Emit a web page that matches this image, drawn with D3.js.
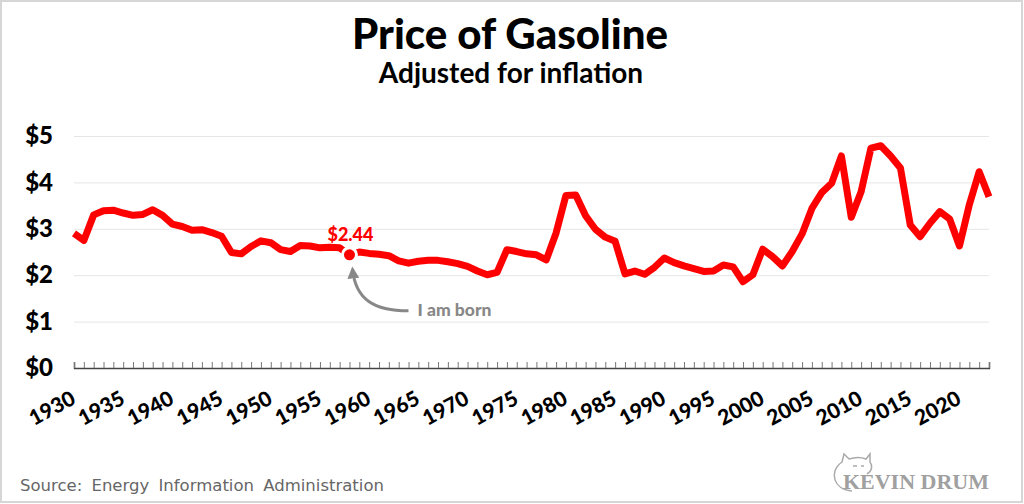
<!DOCTYPE html>
<html>
<head>
<meta charset="utf-8">
<script src="https://cdn.jsdelivr.net/npm/d3@7"></script>
<style>
  body { margin: 0; background: #fff; }
  svg { display: block; }
</style>
</head>
<body>
<script>
// years shown on the chart
var years = [
  1930, 1931, 1932, 1933, 1934, 1935, 1936, 1937, 1938, 1939,
  1940, 1941, 1942, 1943, 1944, 1945, 1946, 1947, 1948, 1949,
  1950, 1951, 1952, 1953, 1954, 1955, 1956, 1957, 1958, 1959,
  1960, 1961, 1962, 1963, 1964, 1965, 1966, 1967, 1968, 1969,
  1970, 1971, 1972, 1973, 1974, 1975, 1976, 1977, 1978, 1979,
  1980, 1981, 1982, 1983, 1984, 1985, 1986, 1987, 1988, 1989,
  1990, 1991, 1992, 1993, 1994, 1995, 1996, 1997, 1998, 1999,
  2000, 2001, 2002, 2003, 2004, 2005, 2006, 2007, 2008, 2009,
  2010, 2011, 2012, 2013, 2014, 2015, 2016, 2017, 2018, 2019,
  2020, 2021, 2022, 2023
];
// inflation-adjusted price per gallon
var prices = [
  2.90, 2.75, 3.30, 3.39, 3.40, 3.34, 3.29, 3.31, 3.41, 3.29,
  3.10, 3.05, 2.97, 2.98, 2.92, 2.84, 2.49, 2.46, 2.62, 2.74,
  2.70, 2.55, 2.51, 2.64, 2.63, 2.59, 2.60, 2.59, 2.44, 2.50,
  2.47, 2.45, 2.42, 2.31, 2.26, 2.30, 2.32, 2.32, 2.29, 2.25,
  2.19, 2.09, 2.01, 2.06, 2.55, 2.51, 2.46, 2.44, 2.33, 2.91,
  3.72, 3.73, 3.28, 2.99, 2.82, 2.73, 2.03, 2.09, 2.02, 2.17,
  2.37, 2.27, 2.20, 2.14, 2.08, 2.09, 2.22, 2.18, 1.86, 2.01,
  2.56, 2.40, 2.20, 2.51, 2.89, 3.44, 3.78, 3.98, 4.57, 3.25,
  3.80, 4.74, 4.79, 4.57, 4.31, 3.08, 2.83, 3.12, 3.37, 3.21,
  2.63, 3.52, 4.23, 3.69
];
// y axis ticks
var yTicks = [0, 1, 2, 3, 4, 5];
// labelled years on the x axis
var xLabels = [1930, 1935, 1940, 1945, 1950, 1955, 1960, 1965, 1970, 1975,
  1980, 1985, 1990, 1995, 2000, 2005, 2010, 2015, 2020];
// annotated point
var bornYear = 1958;
var bornText = 'I am born';

var svgWidth = 1024;
var svgHeight = 504;
var margin = { top: 136, right: 35, bottom: 136, left: 74 };

var data = years.map((y, i) => ({ year: y, price: prices[i] }));

var svg = d3.select('body')
  .append('svg')
  .attr('width', svgWidth)
  .attr('height', svgHeight);

// light frame round the picture
svg.append('rect')
  .attr('x', 1).attr('y', 1)
  .attr('width', 1021).attr('height', 501)
  .attr('fill', '#fff')
  .attr('stroke', '#d6d6d6')
  .attr('stroke-width', 2);

var x = d3.scaleLinear()
  .domain([1930, 2023])
  .range([margin.left, svgWidth - margin.right]);

var y = d3.scaleLinear()
  .domain([0, 5])
  .range([svgHeight - margin.bottom, margin.top]);

// titles
svg.append('text')
  .attr('x', 510).attr('y', 49)
  .attr('text-anchor', 'middle')
  .style('font-family', 'Lato, sans-serif')
  .style('font-weight', 900)
  .style('font-size', '42px')
  .text('Price of Gasoline');

svg.append('text')
  .attr('x', 511).attr('y', 83)
  .attr('text-anchor', 'middle')
  .style('font-family', 'Lato, sans-serif')
  .style('font-weight', 700)
  .style('font-size', '28px')
  .text('Adjusted for inflation');

// gridlines + y labels
var yAxis = svg.append('g')
  .attr('transform', `translate(${margin.left},0)`)
  .call(d3.axisLeft(y)
    .tickValues(yTicks)
    .tickSize(-(svgWidth - margin.left - margin.right))
    .tickPadding(21)
    .tickFormat(d => '$' + d));
yAxis.select('.domain').remove();
yAxis.selectAll('line')
  .attr('stroke', '#e6e6e6')
  .attr('stroke-width', 1)
  .filter(d => d === 0).remove();
yAxis.selectAll('text')
  .attr('fill', '#000')
  .style('font-family', 'Lato, sans-serif')
  .style('font-weight', 900)
  .style('font-size', '24px');

// x axis: tick for every year, pointing up
var xAxis = svg.append('g')
  .attr('transform', `translate(0,${y(0)})`)
  .call(d3.axisTop(x)
    .tickValues(years)
    .tickSize(6)
    .tickFormat(''));
xAxis.select('.domain')
  .attr('stroke', '#444')
  .attr('stroke-width', 1.5);
xAxis.selectAll('.tick line')
  .attr('stroke', '#777')
  .attr('stroke-width', 1);

// rotated year labels
svg.append('g')
  .selectAll('text')
  .data(xLabels)
  .join('text')
  .attr('transform', d => `translate(${x(d) + 3},${y(0) + 35}) rotate(-28)`)
  .attr('text-anchor', 'end')
  .style('font-family', 'Lato, sans-serif')
  .style('font-weight', 900)
  .style('font-size', '21px')
  .text(d => d);

// the price line
var line = d3.line()
  .x(d => x(d.year))
  .y(d => y(d.price));

svg.append('path')
  .datum(data)
  .attr('fill', 'none')
  .attr('stroke', '#ff0000')
  .attr('stroke-width', 7)
  .attr('stroke-linejoin', 'round')
  .attr('d', line);

// annotation
var born = data.find(d => d.year === bornYear);
var bx = x(born.year);
var by = y(born.price);

svg.append('circle')
  .attr('cx', bx).attr('cy', by)
  .attr('r', 7)
  .attr('fill', '#ff0000')
  .attr('stroke', '#fff')
  .attr('stroke-width', 3);

svg.append('text')
  .attr('x', bx + 1).attr('y', by - 14)
  .attr('text-anchor', 'middle')
  .attr('fill', '#ff0000')
  .style('font-family', 'Lato, sans-serif')
  .style('font-weight', 900)
  .style('font-size', '18px')
  .text('$' + born.price.toFixed(2));

svg.append('defs').append('marker')
  .attr('id', 'arrow')
  .attr('viewBox', '0 0 10 10')
  .attr('refX', 8).attr('refY', 5)
  .attr('markerWidth', 4).attr('markerHeight', 4)
  .attr('orient', 'auto')
  .append('path')
  .attr('d', 'M0,0 L10,5 L0,10 z')
  .attr('fill', '#888');

svg.append('path')
  .attr('d', `M${bx + 59},${by + 56} C${bx + 25},${by + 56} ${bx + 6},${by + 45} ${bx + 3},${by + 14}`)
  .attr('fill', 'none')
  .attr('stroke', '#888')
  .attr('stroke-width', 3)
  .attr('marker-end', 'url(#arrow)');

svg.append('text')
  .attr('x', bx + 68).attr('y', by + 61)
  .attr('fill', '#888')
  .style('font-family', 'Lato, sans-serif')
  .style('font-weight', 900)
  .style('font-size', '17.5px')
  .text(bornText);

// source note
svg.append('text')
  .attr('x', 20).attr('y', 491)
  .attr('fill', '#666')
  .style('font-family', 'DejaVu Sans, Verdana, sans-serif')
  .style('font-size', '16.5px')
  .style('word-spacing', '4px')
  .text('Source: Energy Information Administration');

// logo
var logo = svg.append('g').attr('fill', 'none').attr('stroke', '#aaa').attr('stroke-width', 1.5);
logo.append('path')
  .attr('d', 'M852,491 C834,490 828,472 842,462 L844,454 L849,459 C855,457 861,457 866,459 L870,454 L870,462 C873,466 872,471 867,474');
logo.append('path')
  .attr('d', 'M853,466 L857,466 M861,466 L864,466');
svg.append('text')
  .attr('x', 989).attr('y', 489)
  .attr('text-anchor', 'end')
  .attr('fill', '#a0a0a0')
  .style('font-family', 'Liberation Serif, serif')
  .style('font-weight', 700)
  .style('font-size', '22px')
  .text('KEVIN DRUM');
</script>
</body>
</html>
